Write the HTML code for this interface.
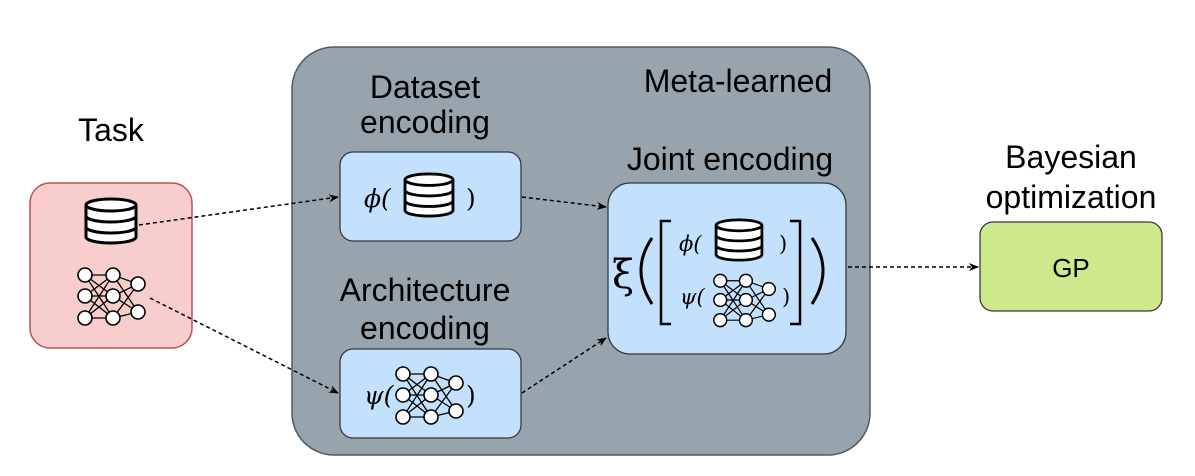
<!DOCTYPE html>
<html><head><meta charset="utf-8"><style>
html,body{margin:0;padding:0;background:#fff;}
svg text{font-family:"Liberation Sans",sans-serif;}
.m{font-family:"DejaVu Serif","Liberation Serif",serif;font-style:italic;}
</style></head><body>
<svg width="1195" height="471" viewBox="0 0 1195 471" xmlns="http://www.w3.org/2000/svg">
<defs>
<symbol id="db" viewBox="0 0 54 48">
<path d="M2,8 V40 A25,6 0 0 0 52,40 V8" fill="#fff" stroke="#000" stroke-width="3"/>
<ellipse cx="27" cy="8" rx="25" ry="6" fill="#fff" stroke="#000" stroke-width="3"/>
<path d="M2,19 A25,6 0 0 0 52,19 M2,30 A25,6 0 0 0 52,30" fill="none" stroke="#000" stroke-width="3"/>
</symbol>
<symbol id="nn" viewBox="0 0 72 62">
<g stroke="#000" stroke-width="1.3">
<path d="M9,10 L37,10 M9,10 L37,31 M9,10 L37,53 M9,31 L37,10 M9,31 L37,31 M9,31 L37,53 M9,53 L37,10 M9,53 L37,31 M9,53 L37,53 M37,10 L62,19 M37,10 L62,47 M37,31 L62,19 M37,31 L62,47 M37,53 L62,19 M37,53 L62,47"/>
</g>
<g fill="#fff" stroke="#000" stroke-width="1.6">
<circle cx="9" cy="10" r="7"/><circle cx="9" cy="31" r="7"/><circle cx="9" cy="53" r="7"/>
<circle cx="37" cy="10" r="7"/><circle cx="37" cy="31" r="7"/><circle cx="37" cy="53" r="7"/>
<circle cx="62" cy="19" r="7"/><circle cx="62" cy="47" r="7"/>
</g>
</symbol>
<marker id="ah" markerWidth="10" markerHeight="10" refX="9" refY="5" orient="auto" markerUnits="userSpaceOnUse">
<path d="M0,1 L10,5 L0,9 L3,5 Z" fill="#000"/>
</marker>
</defs>

<rect x="292" y="47" width="578" height="408" rx="42" fill="#98a4ad" stroke="#4e5b66" stroke-width="1.5"/>
<text x="738" y="92" font-size="32" text-anchor="middle">Meta-learned</text>

<text x="111" y="141" font-size="32" text-anchor="middle">Task</text>
<rect x="30" y="183" width="162" height="165" rx="20" fill="#f8cecc" stroke="#b85450" stroke-width="1.5"/>
<use href="#db" x="84" y="197" width="54" height="48"/>
<use href="#nn" x="76" y="265" width="72" height="62"/>

<text x="425" y="98" font-size="32" text-anchor="middle">Dataset</text>
<text x="425" y="133" font-size="32" text-anchor="middle">encoding</text>
<rect x="340" y="152" width="181" height="89" rx="13" fill="#c3e0fc" stroke="#36393d" stroke-width="1.3"/>
<text x="364" y="207" font-size="25" class="m">ϕ(</text>
<use href="#db" x="402" y="172" width="54" height="46"/>
<text x="466" y="207" font-size="25" class="m" style="font-style:normal">)</text>

<text x="425" y="301" font-size="32" text-anchor="middle">Architecture</text>
<text x="425" y="339" font-size="32" text-anchor="middle">encoding</text>
<rect x="340" y="349" width="181" height="89" rx="13" fill="#c3e0fc" stroke="#36393d" stroke-width="1.3"/>
<text x="364" y="404" font-size="25" class="m">ψ(</text>
<use href="#nn" x="394" y="364" width="72" height="62"/>
<text x="466" y="404" font-size="25" class="m" style="font-style:normal">)</text>

<text x="730" y="170" font-size="32" text-anchor="middle">Joint encoding</text>
<rect x="608" y="183" width="238" height="171" rx="22" fill="#c3e0fc" stroke="#36393d" stroke-width="1.3"/>
<text x="612" y="288" font-size="40" style="font-family:'DejaVu Serif',serif">ξ</text>
<path d="M652,238 Q630,270 652,304" fill="none" stroke="#000" stroke-width="3"/>
<path d="M671,221 H661 V324 H671" fill="none" stroke="#000" stroke-width="2.5"/>
<text x="679" y="251" font-size="21" class="m">ϕ(</text>
<use href="#db" x="712" y="218" width="54" height="44"/>
<text x="779" y="251" font-size="21" class="m" style="font-style:normal">)</text>
<text x="680" y="304" font-size="21" class="m">ψ(</text>
<use href="#nn" x="712" y="270" width="66" height="60"/>
<text x="782" y="304" font-size="21" class="m" style="font-style:normal">)</text>
<path d="M790,221 H800 V324 H790" fill="none" stroke="#000" stroke-width="2.5"/>
<path d="M812,238 Q834,270 812,304" fill="none" stroke="#000" stroke-width="3"/>

<text x="1071" y="168" font-size="32" text-anchor="middle">Bayesian</text>
<text x="1071" y="208" font-size="32" text-anchor="middle">optimization</text>
<rect x="980" y="222" width="182" height="89" rx="13" fill="#cde98b" stroke="#36393d" stroke-width="1.3"/>
<text x="1071" y="277" font-size="26" text-anchor="middle">GP</text>

<g stroke="#000" stroke-width="1.5" stroke-dasharray="4,3" fill="none" marker-end="url(#ah)">
<path d="M139,225 L338,197"/>
<path d="M150,298 L338,393"/>
<path d="M522,197 L606,207"/>
<path d="M522,393 L606,338"/>
<path d="M848,267 L978,267"/>
</g>
</svg>
</body></html>
